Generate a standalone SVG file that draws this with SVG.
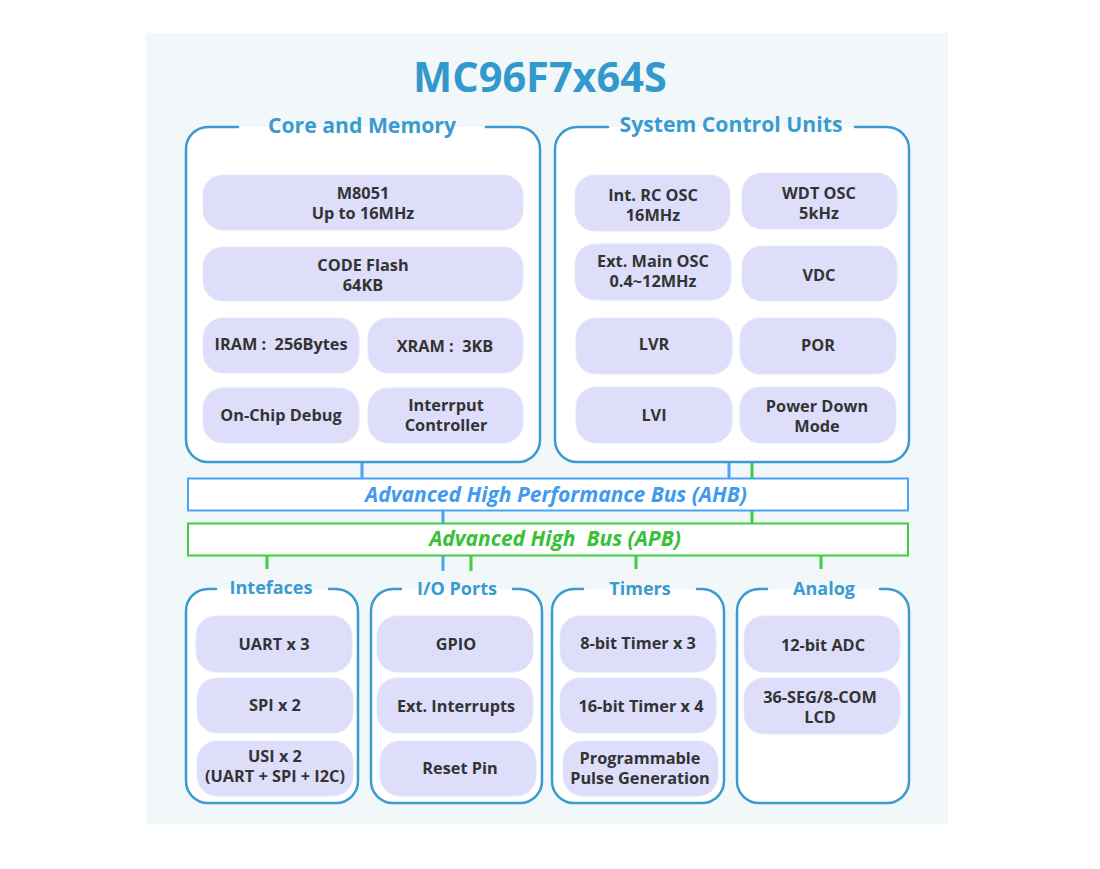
<svg xmlns="http://www.w3.org/2000/svg" width="1100" height="869" viewBox="0 0 1100 869">
<style>
.frame{fill:none;stroke:#3a9bd0;stroke-width:2.5;stroke-linecap:round}
.fill{fill:#ffffff}
.pill{fill:#dedefa;stroke:#e6e6fb;stroke-width:1}
.pt{font-family:"Open Sans","Noto Sans",sans-serif;font-weight:700;font-size:16.3px;fill:#333333;text-anchor:middle}
.gl{font-family:"Open Sans","Noto Sans",sans-serif;font-weight:700;font-size:21.2px;fill:#3a9bd0;text-anchor:middle}
.gs{font-family:"Open Sans","Noto Sans",sans-serif;font-weight:700;font-size:18px;fill:#3a9bd0;text-anchor:middle}
.title{font-family:"Open Sans","Noto Sans",sans-serif;font-weight:700;font-size:41.5px;fill:#3399cc;text-anchor:middle}
.bus{font-family:"Open Sans","Noto Sans",sans-serif;font-weight:700;font-style:italic;font-size:21px;text-anchor:middle}
.b{stroke:#4ba3f5;stroke-width:3}
.g{stroke:#3fcf3f;stroke-width:3}
</style>
<rect x="0" y="0" width="1100" height="869" fill="#ffffff"/>
<rect x="146" y="33" width="802" height="791" fill="#f2f7fa"/>
<text class="title" x="540" y="92">MC96F7x64S</text>

<g id="connectors">
<line class="b" x1="362" y1="462" x2="362" y2="478"/>
<line class="b" x1="729" y1="462" x2="729" y2="478"/>
<line class="g" x1="752" y1="462" x2="752" y2="478"/>
<line class="g" x1="752" y1="510" x2="752" y2="523"/>
<line class="b" x1="443" y1="510" x2="443" y2="523"/>
<line class="b" x1="443" y1="555" x2="443" y2="571"/>
<line class="g" x1="267" y1="555" x2="267" y2="569"/>
<line class="g" x1="471" y1="555" x2="471" y2="571"/>
<line class="g" x1="636" y1="555" x2="636" y2="569"/>
<line class="g" x1="821" y1="555" x2="821" y2="569"/>
</g>

<g id="ahb">
<rect x="188" y="478.5" width="720" height="32" fill="#ffffff" stroke="#4ba3f5" stroke-width="2"/>
<text class="bus" x="556" y="501.5" fill="#3f9af0">Advanced High Performance Bus (AHB)</text>
</g>
<g id="apb">
<rect x="188" y="523.5" width="720" height="32" fill="#ffffff" stroke="#3fcf3f" stroke-width="2"/>
<text class="bus" x="555" y="545.5" fill="#38c038" xml:space="preserve">Advanced High  Bus (APB)</text>
</g>

<g id="core">
<rect class="fill" x="186" y="127" width="354" height="335" rx="22"/>
<path class="frame" d="M486 127 H518 A22 22 0 0 1 540 149 V440 A22 22 0 0 1 518 462 H208 A22 22 0 0 1 186 440 V149 A22 22 0 0 1 208 127 H238"/>
<text class="gl" x="362" y="133">Core and Memory</text>
<g id="m8051"><rect class="pill" x="203" y="175" width="320" height="55" rx="20"/><text class="pt" x="363" y="199">M8051</text><text class="pt" x="363" y="219">Up to 16MHz</text></g>
<g id="flash"><rect class="pill" x="203" y="247" width="320" height="54" rx="20"/><text class="pt" x="363" y="271">CODE Flash</text><text class="pt" x="363" y="291">64KB</text></g>
<g id="iram"><rect class="pill" x="203" y="318" width="156" height="55" rx="20"/><text class="pt" x="281" y="350" xml:space="preserve">IRAM :  256Bytes</text></g>
<g id="xram"><rect class="pill" x="368" y="318" width="155" height="55" rx="20"/><text class="pt" x="445" y="352" xml:space="preserve">XRAM :  3KB</text></g>
<g id="ocd"><rect class="pill" x="203" y="388" width="156" height="55" rx="20"/><text class="pt" x="281" y="421">On-Chip Debug</text></g>
<g id="intc"><rect class="pill" x="368" y="388" width="155" height="55" rx="20"/><text class="pt" x="446" y="411">Interrput</text><text class="pt" x="446" y="431">Controller</text></g>
</g>

<g id="scu">
<rect class="fill" x="555" y="127" width="354" height="335" rx="22"/>
<path class="frame" d="M855 127 H887 A22 22 0 0 1 909 149 V440 A22 22 0 0 1 887 462 H577 A22 22 0 0 1 555 440 V149 A22 22 0 0 1 577 127 H608"/>
<text class="gl" x="731" y="132">System Control Units</text>
<g id="rcosc"><rect class="pill" x="575" y="175" width="155" height="56" rx="20"/><text class="pt" x="653" y="201">Int. RC OSC</text><text class="pt" x="653" y="221">16MHz</text></g>
<g id="wdtosc"><rect class="pill" x="742" y="173" width="155" height="56" rx="20"/><text class="pt" x="819" y="199">WDT OSC</text><text class="pt" x="819" y="219">5kHz</text></g>
<g id="extosc"><rect class="pill" x="575" y="244" width="156" height="56" rx="20"/><text class="pt" x="653" y="267">Ext. Main OSC</text><text class="pt" x="653" y="287">0.4~12MHz</text></g>
<g id="vdc"><rect class="pill" x="742" y="246" width="155" height="55" rx="20"/><text class="pt" x="819" y="281">VDC</text></g>
<g id="lvr"><rect class="pill" x="576" y="318" width="156" height="56" rx="20"/><text class="pt" x="654" y="350">LVR</text></g>
<g id="por"><rect class="pill" x="740" y="318" width="156" height="56" rx="20"/><text class="pt" x="818" y="351">POR</text></g>
<g id="lvi"><rect class="pill" x="576" y="387" width="156" height="56" rx="20"/><text class="pt" x="654" y="421">LVI</text></g>
<g id="pdm"><rect class="pill" x="740" y="387" width="156" height="56" rx="20"/><text class="pt" x="817" y="412">Power Down</text><text class="pt" x="817" y="432">Mode</text></g>
</g>

<g id="interfaces">
<rect class="fill" x="186" y="589" width="172" height="214" rx="22"/>
<path class="frame" d="M329 589 H336 A22 22 0 0 1 358 611 V781 A22 22 0 0 1 336 803 H208 A22 22 0 0 1 186 781 V611 A22 22 0 0 1 208 589 H216"/>
<text class="gs" x="271" y="594">Intefaces</text>
<g id="uart"><rect class="pill" x="196" y="616" width="156" height="56" rx="20"/><text class="pt" x="274" y="650">UART x 3</text></g>
<g id="spi"><rect class="pill" x="197" y="678" width="156" height="55" rx="20"/><text class="pt" x="275" y="711">SPI x 2</text></g>
<g id="usi"><rect class="pill" x="197" y="741" width="156" height="55" rx="20"/><text class="pt" x="275" y="762">USI x 2</text><text class="pt" x="275" y="782">(UART + SPI + I2C)</text></g>
</g>

<g id="io">
<rect class="fill" x="371" y="589" width="171" height="214" rx="22"/>
<path class="frame" d="M513 589 H520 A22 22 0 0 1 542 611 V781 A22 22 0 0 1 520 803 H393 A22 22 0 0 1 371 781 V611 A22 22 0 0 1 393 589 H401"/>
<text class="gs" x="457" y="595">I/O Ports</text>
<g id="gpio"><rect class="pill" x="377" y="616" width="156" height="56" rx="20"/><text class="pt" x="456" y="650">GPIO</text></g>
<g id="extint"><rect class="pill" x="377" y="678" width="156" height="55" rx="20"/><text class="pt" x="456" y="712">Ext. Interrupts</text></g>
<g id="reset"><rect class="pill" x="380" y="741" width="156" height="55" rx="20"/><text class="pt" x="460" y="774">Reset Pin</text></g>
</g>

<g id="timers">
<rect class="fill" x="552" y="589" width="172" height="214" rx="22"/>
<path class="frame" d="M697 589 H702 A22 22 0 0 1 724 611 V781 A22 22 0 0 1 702 803 H574 A22 22 0 0 1 552 781 V611 A22 22 0 0 1 574 589 H583"/>
<text class="gs" x="640" y="595">Timers</text>
<g id="t8"><rect class="pill" x="560" y="616" width="156" height="56" rx="20"/><text class="pt" x="638" y="649">8-bit Timer x 3</text></g>
<g id="t16"><rect class="pill" x="560" y="678" width="156" height="55" rx="20"/><text class="pt" x="641" y="712">16-bit Timer x 4</text></g>
<g id="ppg"><rect class="pill" x="563" y="741" width="155" height="55" rx="20"/><text class="pt" x="640" y="764">Programmable</text><text class="pt" x="640" y="784">Pulse Generation</text></g>
</g>

<g id="analog">
<rect class="fill" x="737" y="589" width="172" height="214" rx="22"/>
<path class="frame" d="M880 589 H887 A22 22 0 0 1 909 611 V781 A22 22 0 0 1 887 803 H759 A22 22 0 0 1 737 781 V611 A22 22 0 0 1 759 589 H767"/>
<text class="gs" x="824" y="595">Analog</text>
<g id="adc"><rect class="pill" x="744" y="616" width="156" height="56" rx="20"/><text class="pt" x="823" y="651">12-bit ADC</text></g>
<g id="lcd"><rect class="pill" x="744" y="678" width="156" height="56" rx="20"/><text class="pt" x="820" y="703">36-SEG/8-COM</text><text class="pt" x="820" y="723">LCD</text></g>
</g>
</svg>
